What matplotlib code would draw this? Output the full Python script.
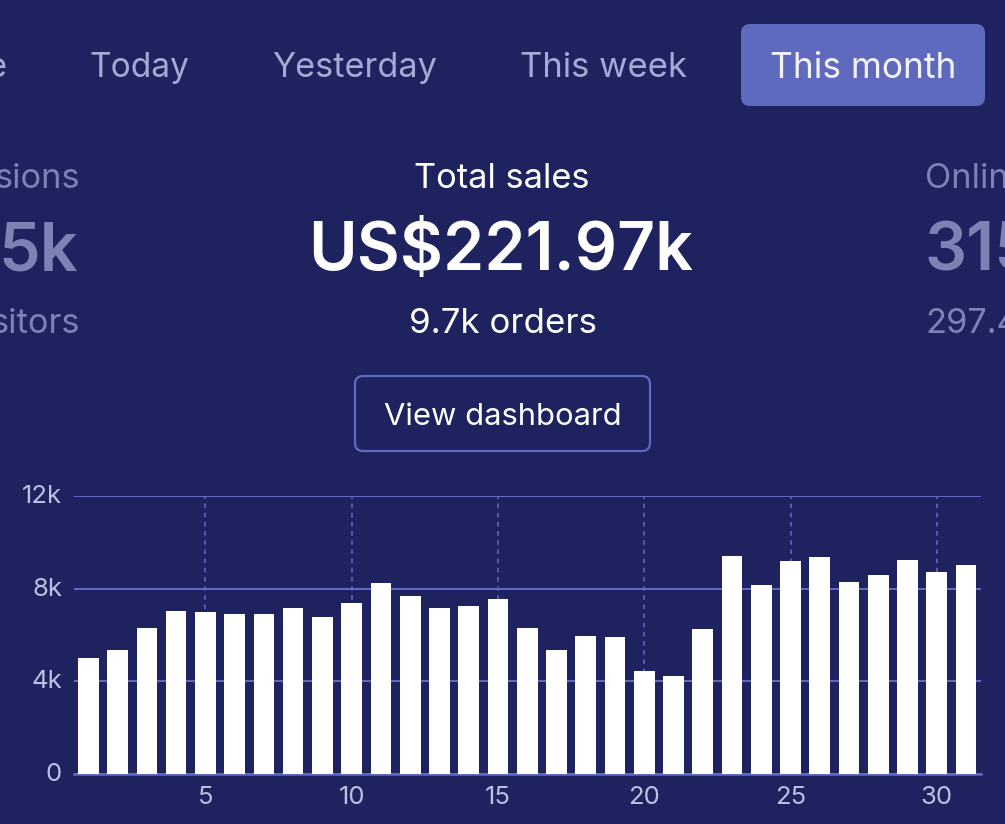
import matplotlib
matplotlib.use("Agg")
import matplotlib.pyplot as plt
from matplotlib.patches import FancyBboxPatch
from matplotlib.transforms import ScaledTranslation

days = list(range(1, 32))
sales_k = [4.99, 5.34, 6.30, 7.05, 6.98, 6.91, 6.91, 7.17, 6.78, 7.40, 8.23, 7.70, 7.15, 7.25, 7.54, 6.29,
           5.34, 5.94, 5.91, 4.45, 4.23, 6.26, 9.40, 8.16, 9.21, 9.37, 8.27, 8.58, 9.22, 8.71, 9.02]
y_ticks = [0, 4, 8, 12]
y_labels = ["0", "4k", "8k", "12k"]
x_ticks = [5, 10, 15, 20, 25, 30]
tabs = ["Live", "Today", "Yesterday", "This week", "This month"]

BG = "#1e2360"
GRID = "#626ac6"
MUTED = "#a5a9d4"
FAINT = "#7d81b4"
W, H = 1005, 824

plt.rcParams["font.family"] = ["Inter", "DejaVu Sans"]
fig = plt.figure(figsize=(W / 100, H / 100), dpi=100, facecolor=BG)

# overlay in image pixel coordinates for the dashboard header
ui = fig.add_axes([0, 0, 1, 1], facecolor="none")
ui.set_xlim(0, W)
ui.set_ylim(H, 0)
ui.axis("off")

ui.add_patch(FancyBboxPatch((741, 24), 244, 82, boxstyle="round,pad=0,rounding_size=9",
                            fc="#5f6abf", ec="none"))
ui.add_patch(FancyBboxPatch((355, 376), 295, 75, boxstyle="round,pad=0,rounding_size=8",
                            fc="none", ec="#5f6abf", lw=1.6))


def label(x, y, s, px, color, ha="center", weight="normal"):
    ui.text(x, y, s, fontsize=px * 0.72, color=color, ha=ha, va="center", fontweight=weight)


label(6, 68, "e", 34.5, MUTED, ha="right")
label(139.5, 68, tabs[1], 33.5, MUTED)
label(355, 68, tabs[2], 34.3, MUTED)
label(603, 68, tabs[3], 34.7, MUTED)
label(863, 68, tabs[4], 35.3, "#f2f3fb")

label(502, 178.5, "Total sales", 34.4, "#ffffff")
label(501, 252.5, "US$221.97k", 66.2, "#ffffff", weight="semibold")
label(503, 323.5, "9.7k orders", 34.9, "#ffffff")
label(503, 416.5, "View dashboard", 31, "#ffffff")

label(79.5, 178.5, "sions", 34.4, FAINT, ha="right")
label(78, 252.5, "5k", 66.2, FAINT, ha="right", weight="semibold")
label(79.5, 323.5, "sitors", 34.4, FAINT, ha="right")
label(925, 178.5, "Onlin", 34.4, FAINT, ha="left")
label(925, 252.5, "315", 66.2, FAINT, ha="left", weight="semibold")
label(925, 323.5, "297.4", 34.4, FAINT, ha="left")

# bar chart
ax = fig.add_axes([74 / W, 1 - 774 / H, 907 / W, 278 / H], facecolor="none")
ax.bar(days, sales_k, width=0.707, color="#ffffff", zorder=3)
ax.set_xlim(0.51, 31.51)
ax.set_ylim(0, 12)
ax.set_yticks(y_ticks, y_labels)
ax.set_xticks(x_ticks, [str(v) for v in x_ticks])
ax.grid(axis="y", color=GRID, lw=1.4, zorder=1)
ax.grid(axis="x", color=GRID, lw=1.1, ls=(0, (3, 3)), zorder=1)
ax.set_axisbelow(True)
for side in ["top", "right", "left"]:
    ax.spines[side].set_visible(False)
ax.spines["bottom"].set_color(GRID)
ax.spines["bottom"].set_linewidth(1.8)
ax.spines["bottom"].set_zorder(2)
ax.tick_params(axis="both", length=0, labelcolor="#bcbfe2", labelsize=18.5)
ax.tick_params(axis="y", pad=8.6)
ax.tick_params(axis="x", pad=9)
shift = ScaledTranslation(0, 2 / 100, fig.dpi_scale_trans)
for t in ax.get_yticklabels():
    t.set_transform(t.get_transform() + shift)

fig.savefig("out.png", dpi=100, facecolor=BG)
